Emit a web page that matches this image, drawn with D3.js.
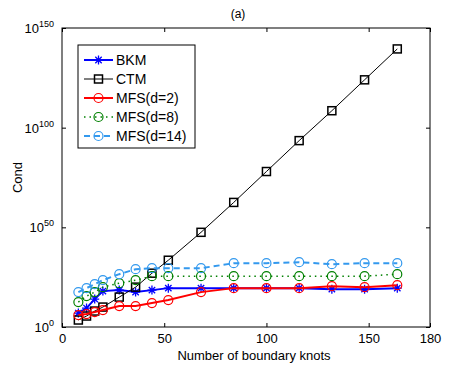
<!DOCTYPE html>
<html><head><meta charset="utf-8">
<script src="https://cdn.jsdelivr.net/npm/d3@7"></script>
<style>body{margin:0;background:#fff}svg{display:block}text{font-family:"Liberation Sans",Arial,sans-serif}</style>
</head><body><svg id="c" width="474" height="367"></svg>
<script>
const knots = [8, 12, 16, 20, 28, 36, 44, 52, 68, 84, 100, 116, 132, 148, 164];
// log10(Cond)
const bkm   = [7, 9.5, 14, 18, 18.5, 17.5, 18.5, 19.5, 19.5, 19.5, 19.5, 19.5, 19, 19, 19.5];
const ctm   = [3.5, 5.5, 8, 10, 15, 20, 27, 33.5, 47.5, 62.5, 78, 93.5, 108.5, 124, 139.5];
const mfs2  = [6, 6.5, 7.5, 8.5, 10.5, 10.5, 12, 13.5, 17.5, 19.5, 19.5, 19.5, 20.5, 20, 21];
const mfs8  = [12.5, 15.5, 17.5, 20, 22, 23.5, 25.5, 25.5, 25.5, 25.5, 25.5, 25.5, 25.5, 25.5, 26.5];
const mfs14 = [17.5, 19.5, 21.5, 23.5, 26.5, 29, 29.5, 29.5, 29.5, 32, 32, 32.5, 31.5, 32, 32];
const xTicks = [0, 50, 100, 150, 180];
const yTickExps = [0, 50, 100, 150];
const seriesNames = ["BKM", "CTM", "MFS(d=2)", "MFS(d=8)", "MFS(d=14)"];

const series = [
  {name: seriesNames[0], vals: bkm,   color: "#0000ff", width: 2,   dash: null,  marker: "star"},
  {name: seriesNames[1], vals: ctm,   color: "#000000", width: 1,   dash: null,  marker: "square"},
  {name: seriesNames[2], vals: mfs2,  color: "#ff0000", width: 2,   dash: null,  marker: "circle"},
  {name: seriesNames[3], vals: mfs8,  color: "#008000", width: 1.5, dash: "1.5,4", marker: "circle"},
  {name: seriesNames[4], vals: mfs14, color: "#3399ee", width: 2,   dash: "6,4", marker: "circle"}
];

const svg = d3.select("#c");
const L = 62, R = 430, T = 28, B = 327;
const x = d3.scaleLinear().domain([0, 180]).range([L, R]);
const y = d3.scaleLinear().domain([0, 150]).range([B, T]);

svg.append("rect").attr("x", L).attr("y", T).attr("width", R - L).attr("height", B - T)
  .attr("fill", "none").attr("stroke", "#000").attr("stroke-width", 1);

const xa = svg.append("g").attr("transform", `translate(0,${B})`)
  .call(d3.axisBottom(x).tickValues(xTicks).tickSize(-4).tickPadding(7).tickFormat(d3.format("d")));
xa.select(".domain").remove();
xa.selectAll("text").attr("font-size", 13).attr("fill", "#000");
const xt = svg.append("g").attr("transform", `translate(0,${T})`)
  .call(d3.axisTop(x).tickValues(xTicks).tickSize(-4).tickFormat(""));
xt.select(".domain").remove();

const ya = svg.append("g").attr("transform", `translate(${L},0)`)
  .call(d3.axisLeft(y).tickValues(yTickExps).tickSize(-4).tickFormat(""));
ya.select(".domain").remove();
const yr = svg.append("g").attr("transform", `translate(${R},0)`)
  .call(d3.axisRight(y).tickValues(yTickExps).tickSize(-4).tickFormat(""));
yr.select(".domain").remove();
yTickExps.forEach(e => {
  const t = svg.append("text").attr("x", L - 8).attr("y", y(e) + 5)
    .attr("text-anchor", "end").attr("font-size", 13);
  t.append("tspan").text("10");
  t.append("tspan").attr("dy", -6).attr("font-size", 9).text(e);
});

svg.append("text").attr("x", (L + R) / 2 + 8).attr("y", 360).attr("text-anchor", "middle")
  .attr("font-size", 13).text("Number of boundary knots");
svg.append("text").attr("transform", `translate(22,${(T + B) / 2}) rotate(-90)`)
  .attr("text-anchor", "middle").attr("font-size", 13).text("Cond");
svg.append("text").attr("x", 238).attr("y", 18).attr("text-anchor", "middle")
  .attr("font-size", 12).text("(a)");

function drawMarker(g, type, cx, cy, color) {
  if (type === "circle") {
    g.append("circle").attr("cx", cx).attr("cy", cy).attr("r", 4.5)
      .attr("fill", "none").attr("stroke", color).attr("stroke-width", 1.2);
  } else if (type === "square") {
    g.append("rect").attr("x", cx - 4).attr("y", cy - 4).attr("width", 8).attr("height", 8)
      .attr("fill", "none").attr("stroke", color).attr("stroke-width", 1.5);
  } else {
    const s = 4.5, d = 3.2;
    g.append("path").attr("d",
      `M${cx - s},${cy}L${cx + s},${cy}M${cx},${cy - s}L${cx},${cy + s}` +
      `M${cx - d},${cy - d}L${cx + d},${cy + d}M${cx - d},${cy + d}L${cx + d},${cy - d}`)
      .attr("stroke", color).attr("stroke-width", 1.3).attr("fill", "none");
  }
}

const line = d3.line().x(d => x(d[0])).y(d => y(d[1]));
const plot = svg.append("g");
series.forEach(s => {
  const pts = knots.map((k, i) => [k, s.vals[i]]);
  plot.append("path").datum(pts).attr("d", line).attr("fill", "none")
    .attr("stroke", s.color).attr("stroke-width", s.width)
    .attr("stroke-dasharray", s.dash);
  const g = plot.append("g");
  pts.forEach(p => drawMarker(g, s.marker, x(p[0]), y(p[1]), s.color));
});

const lg = svg.append("g");
lg.append("rect").attr("x", 78).attr("y", 45).attr("width", 117).attr("height", 103)
  .attr("fill", "#fff").attr("stroke", "#000").attr("stroke-width", 1);
series.forEach((s, i) => {
  const cy = 60 + i * 19;
  lg.append("line").attr("x1", 84).attr("x2", 113).attr("y1", cy).attr("y2", cy)
    .attr("stroke", s.color).attr("stroke-width", s.width).attr("stroke-dasharray", s.dash);
  drawMarker(lg, s.marker, 98.5, cy, s.color);
  lg.append("text").attr("x", 116).attr("y", cy + 5).attr("font-size", 14).text(s.name);
});
</script></body></html>
